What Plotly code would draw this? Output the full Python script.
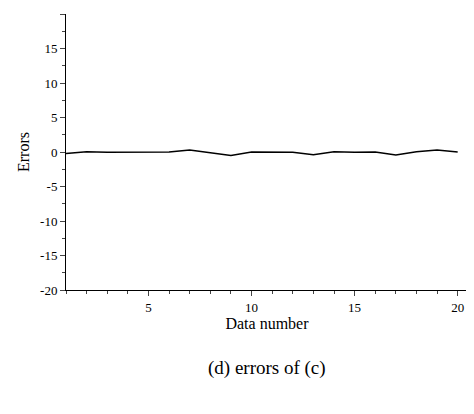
import plotly.graph_objects as go

data_number = list(range(1, 21))
errors = [-0.2, 0.05, -0.05, -0.05, 0.0, 0.0, 0.3, -0.05, -0.5, 0.0,
          -0.05, -0.05, -0.4, 0.05, -0.05, 0.0, -0.45, 0.05, 0.3, 0.0]
y_ticks = [-20, -15, -10, -5, 0, 5, 10, 15, 20]
y_labels = [str(v).replace("\u2212", "-") for v in y_ticks]

fig = go.Figure(go.Scatter(x=data_number, y=errors, mode="lines",
                           line=dict(color="black", width=1.5)))

fig.update_layout(
    width=474, height=414, plot_bgcolor="white", paper_bgcolor="white",
    margin=dict(l=58, r=14, t=6, b=132), showlegend=False,
    font=dict(family="Liberation Serif", size=13, color="black"),
    annotations=[dict(text="(d) errors of (c)", x=0.5, y=-0.33, xref="paper", yref="paper",
                      showarrow=False, font=dict(size=19, family="Liberation Serif"))],
)
fig.update_xaxes(range=[1, 20.5], tickvals=[5, 10, 15, 20], showgrid=False, zeroline=False,
                 showline=True, linecolor="black", ticks="outside", ticklen=5,
                 minor=dict(ticks="outside", ticklen=3, dtick=1, tick0=0),
                 title=dict(text="Data number", standoff=4))
fig.update_yaxes(range=[-20, 20], tickvals=y_ticks, ticktext=y_labels, showgrid=False,
                 zeroline=False, showline=True, linecolor="black", ticks="outside", ticklen=5,
                 minor=dict(ticks="outside", ticklen=3, dtick=2.5),
                 title=dict(text="Errors", standoff=6))

fig.write_html("out.html")
